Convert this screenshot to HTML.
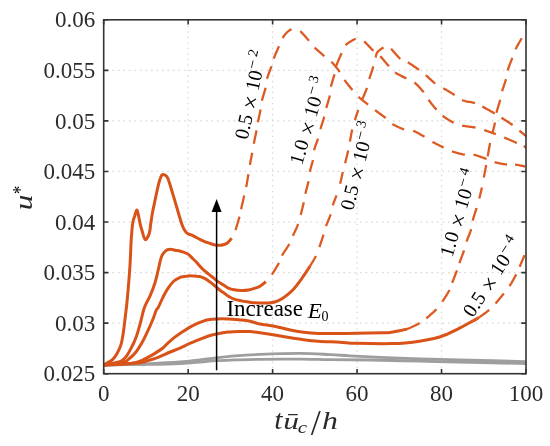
<!DOCTYPE html><html><head><meta charset="utf-8"><style>
html,body{margin:0;padding:0;background:#fff;width:550px;height:446px;overflow:hidden}
svg{display:block;position:absolute;left:0;top:0}
text{font-family:"Liberation Serif","Times New Roman",serif}
</style></head><body>
<svg width="550" height="446" viewBox="0 0 550 446">
<rect width="550" height="446" fill="#fff"/>
<g stroke="#d9d9d9" stroke-width="1.3" stroke-dasharray="1.7 3.8" stroke-dashoffset="0.15"><line x1="188.16" y1="373.70" x2="188.16" y2="19.80"/><line x1="272.62" y1="373.70" x2="272.62" y2="19.80"/><line x1="357.08" y1="373.70" x2="357.08" y2="19.80"/><line x1="441.54" y1="373.70" x2="441.54" y2="19.80"/></g>
<g stroke="#d9d9d9" stroke-width="1.3" stroke-dasharray="1.7 3.8" stroke-dashoffset="2.25"><line x1="103.70" y1="323.14" x2="526.00" y2="323.14"/><line x1="103.70" y1="272.59" x2="526.00" y2="272.59"/><line x1="103.70" y1="222.03" x2="526.00" y2="222.03"/><line x1="103.70" y1="171.47" x2="526.00" y2="171.47"/><line x1="103.70" y1="120.91" x2="526.00" y2="120.91"/><line x1="103.70" y1="70.36" x2="526.00" y2="70.36"/></g>
<defs><clipPath id="cp"><rect x="103.70" y="19.80" width="422.30" height="353.90"/></clipPath></defs>
<g clip-path="url(#cp)">
<path d="M103.60,365.00 C111.33,364.90 137.27,364.65 150.00,364.40 C162.73,364.15 171.67,363.88 180.00,363.50 C188.33,363.12 194.00,362.58 200.00,362.10 C206.00,361.62 210.17,360.97 216.00,360.60 C221.83,360.23 227.67,360.12 235.00,359.90 C242.33,359.68 249.17,359.43 260.00,359.30 C270.83,359.17 288.33,359.05 300.00,359.10 C311.67,359.15 318.33,359.45 330.00,359.60 C341.67,359.75 355.00,359.73 370.00,360.00 C385.00,360.27 403.33,360.80 420.00,361.20 C436.67,361.60 452.33,362.00 470.00,362.40 C487.67,362.80 516.67,363.40 526.00,363.60" fill="none" stroke="#9E9E9E" stroke-width="2.80" stroke-linejoin="round" stroke-linecap="butt"/>
<path d="M103.60,365.00 C111.33,364.77 137.27,364.10 150.00,363.60 C162.73,363.10 171.67,362.63 180.00,362.00 C188.33,361.37 194.00,360.50 200.00,359.80 C206.00,359.10 210.17,358.45 216.00,357.80 C221.83,357.15 227.67,356.47 235.00,355.90 C242.33,355.33 249.17,354.82 260.00,354.40 C270.83,353.98 288.33,353.37 300.00,353.40 C311.67,353.43 321.67,354.20 330.00,354.60 C338.33,355.00 341.67,355.35 350.00,355.80 C358.33,356.25 368.33,356.80 380.00,357.30 C391.67,357.80 405.00,358.32 420.00,358.80 C435.00,359.28 452.33,359.73 470.00,360.20 C487.67,360.67 516.67,361.37 526.00,361.60" fill="none" stroke="#9E9E9E" stroke-width="2.80" stroke-linejoin="round" stroke-linecap="butt"/>
<path d="M103.60,365.00 C109.70,364.62 132.98,363.38 140.20,362.70 C147.42,362.02 144.52,361.58 146.90,360.90 C149.28,360.22 152.02,359.47 154.50,358.60 C156.98,357.73 159.37,356.72 161.80,355.70 C164.23,354.68 166.07,353.77 169.10,352.50 C172.13,351.23 176.67,349.57 180.00,348.10 C183.33,346.63 185.92,345.12 189.10,343.70 C192.28,342.28 195.98,340.85 199.10,339.60 C202.22,338.35 204.90,337.13 207.80,336.20 C210.70,335.27 213.10,334.68 216.50,334.00 C219.90,333.32 224.32,332.52 228.20,332.10 C232.08,331.68 236.17,331.58 239.80,331.50 C243.43,331.42 246.63,331.40 250.00,331.60 C253.37,331.80 255.92,332.15 260.00,332.70 C264.08,333.25 269.65,334.10 274.50,334.90 C279.35,335.70 284.25,336.70 289.10,337.50 C293.95,338.30 298.75,339.08 303.60,339.70 C308.45,340.32 312.13,340.78 318.20,341.20 C324.27,341.62 333.63,341.85 340.00,342.20 C346.37,342.55 347.62,343.07 356.40,343.30 C365.18,343.53 384.60,343.67 392.70,343.60 C400.80,343.53 400.53,343.30 405.00,342.90 C409.47,342.50 414.67,341.93 419.50,341.20 C424.33,340.47 429.75,339.53 434.00,338.50 C438.25,337.47 440.97,336.62 445.00,335.00 C449.03,333.38 453.88,330.97 458.20,328.80 C462.52,326.63 467.52,323.83 470.90,322.00 C474.28,320.17 477.23,318.50 478.50,317.80" fill="none" stroke="#D95319" stroke-width="3.00" stroke-linejoin="round" stroke-linecap="butt"/>
<path d="M103.60,365.00 C108.13,364.73 124.70,364.05 130.80,363.40 C136.90,362.75 137.45,362.07 140.20,361.10 C142.95,360.13 144.92,358.85 147.30,357.60 C149.68,356.35 151.90,355.20 154.50,353.60 C157.10,352.00 160.77,349.67 162.90,348.00 C165.03,346.33 165.37,345.37 167.30,343.60 C169.23,341.83 172.08,339.28 174.50,337.40 C176.92,335.52 179.37,333.93 181.80,332.30 C184.23,330.67 186.67,329.00 189.10,327.60 C191.53,326.20 194.25,324.90 196.40,323.90 C198.55,322.90 200.07,322.28 202.00,321.60 C203.93,320.92 205.58,320.25 208.00,319.80 C210.42,319.35 213.13,319.05 216.50,318.90 C219.87,318.75 224.32,318.73 228.20,318.90 C232.08,319.07 236.17,319.52 239.80,319.90 C243.43,320.28 246.63,320.52 250.00,321.20 C253.37,321.88 255.92,323.17 260.00,324.00 C264.08,324.83 269.65,325.23 274.50,326.20 C279.35,327.17 284.25,328.78 289.10,329.80 C293.95,330.82 298.75,331.68 303.60,332.30 C308.45,332.92 312.13,333.30 318.20,333.50 C324.27,333.70 333.63,333.53 340.00,333.50 C346.37,333.47 349.13,333.43 356.40,333.30 C363.67,333.17 378.00,332.83 383.60,332.70 C389.20,332.57 387.57,332.78 390.00,332.50 C392.43,332.22 395.40,331.57 398.20,331.00 C401.00,330.43 405.37,329.42 406.80,329.10" fill="none" stroke="#D95319" stroke-width="3.00" stroke-linejoin="round" stroke-linecap="butt"/>
<path d="M103.60,365.00 C106.78,364.58 118.40,363.58 122.70,362.50 C127.00,361.42 127.15,360.30 129.40,358.50 C131.65,356.70 134.18,354.18 136.20,351.70 C138.22,349.22 139.72,346.73 141.50,343.60 C143.28,340.47 145.10,336.70 146.90,332.90 C148.70,329.10 150.73,324.62 152.30,320.80 C153.87,316.98 155.32,312.20 156.30,310.00 C157.28,307.80 157.10,309.70 158.20,307.60 C159.30,305.50 161.33,300.53 162.90,297.40 C164.47,294.27 165.77,291.53 167.60,288.80 C169.43,286.07 171.77,282.93 173.90,281.00 C176.03,279.07 178.72,277.93 180.40,277.20 C182.08,276.47 182.65,276.82 184.00,276.60 C185.35,276.38 187.02,276.02 188.50,275.90 C189.98,275.78 191.82,275.87 192.90,275.90 C193.98,275.93 193.88,276.00 195.00,276.10 C196.12,276.20 198.08,276.15 199.60,276.50 C201.12,276.85 202.58,277.47 204.10,278.20 C205.62,278.93 207.17,279.85 208.70,280.90 C210.23,281.95 211.97,283.40 213.30,284.50 C214.63,285.60 215.42,286.42 216.70,287.50 C217.98,288.58 219.62,289.95 221.00,291.00 C222.38,292.05 223.83,292.97 225.00,293.80 C226.17,294.63 226.48,295.12 228.00,296.00 C229.52,296.88 231.87,298.28 234.10,299.10 C236.33,299.92 238.98,300.42 241.40,300.90 C243.82,301.38 246.33,301.68 248.60,302.00 C250.87,302.32 252.77,302.62 255.00,302.80 C257.23,302.98 259.67,303.08 262.00,303.10 C264.33,303.12 266.75,303.12 269.00,302.90 C271.25,302.68 273.42,302.45 275.50,301.80 C277.58,301.15 279.48,300.20 281.50,299.00 C283.52,297.80 285.60,296.23 287.60,294.60 C289.60,292.97 291.53,291.32 293.50,289.20 C295.47,287.08 297.58,284.32 299.40,281.90 C301.22,279.48 302.63,277.30 304.40,274.70 C306.17,272.10 309.07,267.70 310.00,266.30" fill="none" stroke="#D95319" stroke-width="3.00" stroke-linejoin="round" stroke-linecap="butt"/>
<path d="M103.60,365.00 C105.62,364.62 112.75,363.35 115.70,362.70 C118.65,362.05 119.47,362.25 121.30,361.10 C123.13,359.95 125.02,358.03 126.70,355.80 C128.38,353.57 129.82,350.85 131.40,347.70 C132.98,344.55 134.73,340.93 136.20,336.90 C137.67,332.87 138.97,327.98 140.20,323.50 C141.43,319.02 142.68,313.17 143.60,310.00 C144.52,306.83 144.57,306.98 145.70,304.50 C146.83,302.02 148.83,298.77 150.40,295.10 C151.97,291.43 153.80,286.68 155.10,282.50 C156.40,278.32 157.13,274.28 158.20,270.00 C159.27,265.72 160.27,260.00 161.50,256.80 C162.73,253.60 164.13,252.07 165.60,250.80 C167.07,249.53 168.73,249.30 170.30,249.20 C171.87,249.10 173.32,249.87 175.00,250.20 C176.68,250.53 178.60,250.73 180.40,251.20 C182.20,251.67 184.32,252.33 185.80,253.00 C187.28,253.67 188.12,254.23 189.30,255.20 C190.48,256.17 191.70,257.63 192.90,258.80 C194.10,259.97 194.95,260.57 196.50,262.20 C198.05,263.83 200.17,266.60 202.20,268.60 C204.23,270.60 206.73,272.57 208.70,274.20 C210.67,275.83 212.67,277.33 214.00,278.40 C215.33,279.47 215.53,279.73 216.70,280.60 C217.87,281.47 219.62,282.70 221.00,283.60 C222.38,284.50 223.88,285.30 225.00,286.00 C226.12,286.70 226.18,287.17 227.70,287.80 C229.22,288.43 231.82,289.35 234.10,289.80 C236.38,290.25 238.98,290.47 241.40,290.50 C243.82,290.53 246.33,290.38 248.60,290.00 C250.87,289.62 253.10,288.83 255.00,288.20 C256.90,287.57 258.18,287.28 260.00,286.20 C261.82,285.12 264.92,282.45 265.90,281.70" fill="none" stroke="#D95319" stroke-width="3.00" stroke-linejoin="round" stroke-linecap="butt"/>
<path d="M103.60,365.00 C104.05,364.75 104.82,364.40 106.30,363.50 C107.78,362.60 110.68,361.30 112.50,359.60 C114.32,357.90 115.75,355.92 117.20,353.30 C118.65,350.68 120.15,347.57 121.20,343.90 C122.25,340.23 122.80,336.00 123.50,331.30 C124.20,326.60 124.78,320.92 125.40,315.70 C126.02,310.48 126.45,308.13 127.20,300.00 C127.95,291.87 129.23,276.90 129.90,266.90 C130.57,256.90 130.73,247.28 131.20,240.00 C131.67,232.72 132.12,227.18 132.70,223.20 C133.28,219.22 134.03,218.28 134.70,216.10 C135.37,213.92 136.12,210.43 136.70,210.10 C137.28,209.77 137.62,211.75 138.20,214.10 C138.78,216.45 139.53,221.33 140.20,224.20 C140.87,227.07 141.35,228.73 142.20,231.30 C143.05,233.87 144.12,239.27 145.30,239.60 C146.48,239.93 148.38,236.03 149.30,233.30 C150.22,230.57 150.25,226.75 150.80,223.20 C151.35,219.65 151.97,215.45 152.60,212.00 C153.23,208.55 153.87,206.00 154.60,202.50 C155.33,199.00 156.17,194.67 157.00,191.00 C157.83,187.33 158.75,183.20 159.60,180.50 C160.45,177.80 161.15,175.67 162.10,174.80 C163.05,173.93 164.38,174.80 165.30,175.30 C166.22,175.80 166.78,176.15 167.60,177.80 C168.42,179.45 168.77,180.60 170.20,185.20 C171.63,189.80 174.18,198.68 176.20,205.40 C178.22,212.12 180.62,220.97 182.30,225.50 C183.98,230.03 184.95,231.08 186.30,232.60 C187.65,234.12 189.22,234.07 190.40,234.60 C191.58,235.13 191.73,234.95 193.40,235.80 C195.07,236.65 198.53,238.73 200.40,239.70 C202.27,240.67 203.25,241.07 204.60,241.60 C205.95,242.13 206.77,242.33 208.50,242.90 C210.23,243.47 213.13,244.60 215.00,245.00 C216.87,245.40 218.32,245.33 219.70,245.30 C221.08,245.27 221.97,245.23 223.30,244.80 C224.63,244.37 226.30,243.80 227.70,242.70 C229.10,241.60 231.03,238.95 231.70,238.20" fill="none" stroke="#D95319" stroke-width="3.00" stroke-linejoin="round" stroke-linecap="butt"/>
<path d="M235.50,230.10L235.76,229.27L236.06,228.31L236.39,227.22L236.75,226.05L237.13,224.81L237.51,223.54L237.89,222.25L238.26,220.99L238.61,219.76L238.95,218.60L239.24,217.54L239.50,216.60M241.10,209.20L241.31,208.26L241.54,207.22L241.80,206.09L242.06,204.90L242.34,203.67L242.62,202.41L242.91,201.15L243.19,199.91L243.47,198.70L243.73,197.55L243.98,196.48L244.20,195.50M246.20,187.10L246.38,186.18L246.56,185.18L246.75,184.13L246.94,183.03L247.14,181.91L247.33,180.76L247.52,179.62L247.71,178.48L247.89,177.36L248.07,176.29L248.24,175.26L248.40,174.30M249.90,164.90L250.07,163.98L250.25,163.00L250.44,161.99L250.63,160.95L250.84,159.89L251.04,158.82L251.25,157.76L251.46,156.70L251.66,155.67L251.85,154.67L252.03,153.71L252.20,152.80M253.80,143.80L253.99,142.82L254.20,141.76L254.43,140.64L254.67,139.46L254.91,138.26L255.16,137.04L255.41,135.83L255.66,134.64L255.89,133.48L256.11,132.38L256.32,131.35L256.50,130.40M257.90,122.30L258.08,121.38L258.29,120.39L258.52,119.33L258.76,118.23L259.00,117.09L259.26,115.94L259.51,114.78L259.76,113.64L259.99,112.52L260.22,111.45L260.42,110.44L260.60,109.50M261.90,100.80L262.13,99.85L262.40,98.82L262.71,97.74L263.04,96.60L263.39,95.44L263.74,94.26L264.10,93.08L264.45,91.92L264.78,90.78L265.09,89.69L265.36,88.66L265.60,87.70M267.00,78.80L267.27,77.86L267.60,76.86L267.96,75.79L268.36,74.69L268.77,73.56L269.20,72.42L269.63,71.28L270.06,70.17L270.46,69.09L270.85,68.05L271.20,67.09L271.50,66.20M273.70,58.60L274.04,57.72L274.42,56.76L274.85,55.74L275.30,54.66L275.77,53.56L276.26,52.43L276.76,51.30L277.24,50.19L277.72,49.11L278.18,48.07L278.61,47.10L279.00,46.20M282.60,38.10L282.94,37.53L283.28,36.98L283.64,36.45L284.00,35.93L284.37,35.43L284.74,34.94L285.11,34.48L285.49,34.03L285.87,33.59L286.25,33.18L286.62,32.78L287.00,32.40L287.38,32.04L287.76,31.69L288.15,31.35L288.53,31.04L288.92,30.74L289.31,30.46L289.70,30.19L290.09,29.95L290.47,29.73L290.85,29.53L291.23,29.35L291.60,29.20M300.30,31.20L300.89,31.75L301.54,32.40L302.25,33.15L303.00,33.96L303.78,34.82L304.58,35.71L305.38,36.62L306.17,37.53L306.94,38.42L307.68,39.28L308.37,40.07L309.00,40.80M314.60,47.60L315.28,48.26L316.02,48.96L316.82,49.69L317.66,50.44L318.53,51.21L319.41,51.98L320.30,52.74L321.19,53.49L322.05,54.22L322.88,54.92L323.67,55.58L324.40,56.20M331.40,61.80L332.06,62.50L332.76,63.26L333.49,64.08L334.23,64.94L334.99,65.84L335.74,66.76L336.49,67.68L337.22,68.60L337.93,69.50L338.60,70.38L339.23,71.22L339.80,72.00M344.50,79.90L345.05,80.68L345.65,81.49L346.29,82.35L346.96,83.23L347.66,84.12L348.36,85.02L349.07,85.91L349.78,86.80L350.48,87.66L351.15,88.48L351.79,89.27L352.40,90.00M358.50,96.80L359.19,97.42L359.93,98.07L360.72,98.73L361.54,99.41L362.39,100.10L363.25,100.78L364.11,101.46L364.97,102.13L365.81,102.79L366.62,103.42L367.38,104.03L368.10,104.60M375.00,110.10L375.77,110.68L376.61,111.30L377.50,111.95L378.43,112.62L379.39,113.31L380.36,114.01L381.33,114.71L382.29,115.41L383.22,116.10L384.10,116.76L384.94,117.40L385.70,118.00M392.40,124.10L393.21,124.58L394.10,125.07L395.06,125.57L396.06,126.07L397.10,126.56L398.16,127.04L399.22,127.51L400.29,127.95L401.33,128.37L402.34,128.75L403.30,129.10L404.20,129.40M413.20,130.80L414.07,131.14L414.99,131.54L415.94,132.00L416.92,132.49L417.92,133.02L418.92,133.57L419.92,134.13L420.90,134.70L421.86,135.26L422.79,135.80L423.67,136.32L424.50,136.80M432.40,141.90L433.23,142.35L434.11,142.82L435.03,143.30L435.99,143.79L436.97,144.28L437.97,144.78L438.96,145.26L439.95,145.74L440.92,146.21L441.86,146.66L442.75,147.09L443.60,147.50M452.00,151.40L452.93,151.71L453.94,152.02L455.01,152.34L456.12,152.67L457.27,152.98L458.43,153.29L459.59,153.59L460.74,153.87L461.86,154.12L462.94,154.35L463.96,154.54L464.90,154.70M473.60,154.70L474.55,154.91L475.58,155.18L476.66,155.50L477.80,155.86L478.97,156.25L480.14,156.66L481.32,157.08L482.48,157.50L483.60,157.91L484.67,158.30L485.68,158.67L486.60,159.00M494.60,162.10L495.49,162.34L496.46,162.58L497.49,162.83L498.57,163.07L499.68,163.31L500.80,163.54L501.92,163.77L503.03,163.97L504.11,164.16L505.14,164.33L506.11,164.48L507.00,164.60M515.00,164.60L515.81,164.70L516.70,164.83L517.65,164.99L518.64,165.16L519.65,165.35L520.65,165.55L521.62,165.75L522.54,165.94L523.40,166.11L524.15,166.27L524.79,166.40L525.30,166.50" fill="none" stroke="#DD5B22" stroke-width="2.30" stroke-linecap="butt" stroke-linejoin="round"/>
<path d="M271.80,274.60L272.35,273.78L272.94,272.88L273.56,271.92L274.21,270.90L274.88,269.85L275.54,268.78L276.20,267.71L276.84,266.66L277.45,265.63L278.02,264.65L278.54,263.74L279.00,262.90M282.00,255.60L282.47,254.77L283.01,253.88L283.61,252.92L284.25,251.92L284.92,250.89L285.61,249.85L286.30,248.80L286.98,247.77L287.63,246.75L288.25,245.78L288.81,244.86L289.30,244.00M292.90,235.90L293.29,235.03L293.72,234.10L294.17,233.13L294.64,232.11L295.13,231.07L295.62,230.01L296.10,228.95L296.58,227.90L297.03,226.87L297.46,225.87L297.85,224.91L298.20,224.00M300.70,214.90L300.94,213.96L301.20,212.96L301.47,211.90L301.74,210.81L302.03,209.70L302.31,208.57L302.58,207.44L302.86,206.33L303.12,205.25L303.36,204.21L303.59,203.22L303.80,202.30M305.40,193.70L305.61,192.79L305.85,191.81L306.11,190.78L306.39,189.71L306.68,188.61L306.97,187.50L307.26,186.39L307.54,185.28L307.82,184.20L308.07,183.15L308.30,182.15L308.50,181.20M309.80,171.80L310.00,170.89L310.23,169.95L310.49,168.97L310.77,167.97L311.06,166.95L311.36,165.92L311.65,164.89L311.94,163.87L312.22,162.86L312.47,161.87L312.70,160.92L312.90,160.00M314.10,150.30L314.34,149.39L314.61,148.44L314.92,147.46L315.26,146.46L315.61,145.45L315.98,144.43L316.34,143.41L316.71,142.40L317.07,141.41L317.41,140.44L317.72,139.50L318.00,138.60M320.40,129.20L320.68,128.25L320.99,127.24L321.31,126.18L321.66,125.09L322.01,123.97L322.38,122.85L322.73,121.73L323.09,120.62L323.42,119.54L323.74,118.51L324.04,117.52L324.30,116.60M326.30,108.00L326.55,107.08L326.82,106.10L327.13,105.06L327.44,103.98L327.77,102.88L328.11,101.76L328.44,100.64L328.76,99.53L329.06,98.45L329.34,97.41L329.59,96.42L329.80,95.50M330.90,86.80L331.12,85.87L331.38,84.87L331.67,83.81L331.99,82.71L332.32,81.58L332.67,80.44L333.02,79.31L333.36,78.19L333.68,77.10L333.99,76.07L334.26,75.09L334.50,74.20M336.10,66.40L336.43,65.47L336.81,64.44L337.24,63.34L337.70,62.17L338.20,60.97L338.71,59.76L339.22,58.54L339.74,57.34L340.25,56.17L340.73,55.07L341.19,54.04L341.60,53.10M345.50,45.20L346.15,44.59L346.90,43.97L347.75,43.33L348.65,42.70L349.60,42.08L350.57,41.48L351.55,40.91L352.50,40.36L353.42,39.86L354.27,39.41L355.04,39.02L355.70,38.70M364.20,41.30L364.80,41.88L365.48,42.57L366.23,43.34L367.02,44.17L367.85,45.05L368.69,45.96L369.55,46.87L370.40,47.77L371.24,48.65L372.04,49.47L372.80,50.23L373.50,50.90M380.20,56.20L380.86,56.89L381.56,57.65L382.30,58.48L383.05,59.36L383.81,60.27L384.59,61.20L385.36,62.13L386.12,63.05L386.86,63.94L387.58,64.79L388.26,65.58L388.90,66.30M395.00,72.40L395.77,72.92L396.63,73.44L397.55,73.97L398.53,74.51L399.54,75.05L400.57,75.58L401.62,76.11L402.65,76.62L403.66,77.12L404.63,77.60L405.55,78.07L406.40,78.50M414.50,82.50L415.24,83.12L416.02,83.83L416.83,84.60L417.65,85.43L418.48,86.29L419.31,87.19L420.12,88.09L420.92,89.00L421.68,89.88L422.41,90.74L423.08,91.55L423.70,92.30M428.50,99.70L429.06,100.46L429.67,101.27L430.32,102.13L431.00,103.02L431.70,103.92L432.42,104.84L433.14,105.75L433.86,106.64L434.56,107.50L435.24,108.32L435.89,109.09L436.50,109.80M442.60,115.80L443.36,116.36L444.19,116.96L445.09,117.58L446.03,118.21L447.01,118.86L448.01,119.50L449.01,120.13L450.01,120.74L451.00,121.32L451.95,121.86L452.85,122.36L453.70,122.80M462.10,125.60L463.06,125.79L464.11,125.97L465.23,126.14L466.40,126.31L467.61,126.46L468.84,126.62L470.06,126.77L471.27,126.93L472.45,127.08L473.57,127.25L474.63,127.42L475.60,127.60M484.20,130.10L485.08,130.39L486.01,130.70L486.99,131.03L488.00,131.38L489.03,131.74L490.07,132.10L491.11,132.47L492.14,132.83L493.14,133.19L494.11,133.54L495.03,133.88L495.90,134.20M504.20,137.50L505.12,137.89L506.13,138.32L507.20,138.78L508.33,139.26L509.48,139.76L510.64,140.26L511.80,140.77L512.94,141.26L514.04,141.74L515.07,142.20L516.03,142.62L516.90,143.00M523.70,146.10L524.11,146.32L524.49,146.54L524.85,146.76L525.18,146.98L525.49,147.19L525.78,147.39L526.04,147.58L526.27,147.76L526.49,147.93L526.68,148.07L526.85,148.20L527.00,148.30" fill="none" stroke="#DD5B22" stroke-width="2.30" stroke-linecap="butt" stroke-linejoin="round"/>
<path d="M306.00,272.50L306.50,271.68L307.16,270.62L307.95,269.36L308.84,267.94L309.79,266.41L310.79,264.81L311.79,263.17L312.79,261.55L313.73,259.98L314.60,258.50L315.37,257.16L316.00,256.00M319.40,247.10L319.72,246.18L320.06,245.19L320.41,244.15L320.77,243.08L321.14,241.98L321.51,240.88L321.87,239.77L322.23,238.67L322.57,237.61L322.90,236.58L323.21,235.61L323.50,234.70M326.00,226.20L326.32,225.32L326.69,224.38L327.08,223.40L327.50,222.38L327.93,221.34L328.38,220.28L328.81,219.22L329.24,218.18L329.66,217.15L330.04,216.15L330.39,215.20L330.70,214.30M332.80,205.30L333.05,204.51L333.33,203.71L333.61,202.91L333.92,202.10L334.23,201.29L334.56,200.46L334.88,199.63L335.21,198.79L335.54,197.94L335.87,197.07L336.19,196.19L336.50,195.30M340.10,183.70L340.36,182.72L340.61,181.72L340.85,180.71L341.08,179.70L341.31,178.69L341.53,177.68L341.75,176.67L341.96,175.69L342.17,174.72L342.38,173.78L342.59,172.87L342.80,172.00M345.10,163.20L345.33,162.26L345.59,161.25L345.85,160.19L346.13,159.08L346.41,157.95L346.69,156.80L346.97,155.65L347.24,154.52L347.50,153.41L347.76,152.35L347.99,151.34L348.20,150.40M349.90,141.60L350.07,140.70L350.24,139.74L350.42,138.74L350.61,137.71L350.80,136.66L350.99,135.59L351.18,134.52L351.38,133.46L351.58,132.41L351.79,131.40L351.99,130.42L352.20,129.50M354.90,120.10L355.16,119.29L355.42,118.47L355.68,117.65L355.95,116.82L356.23,115.99L356.51,115.15L356.79,114.31L357.08,113.46L357.38,112.60L357.68,111.74L357.99,110.88L358.30,110.00M362.50,99.00L362.87,98.07L363.26,97.12L363.66,96.16L364.06,95.19L364.47,94.23L364.87,93.26L365.27,92.31L365.65,91.36L366.02,90.44L366.37,89.53L366.70,88.65L367.00,87.80M369.30,79.00L369.58,78.07L369.89,77.08L370.22,76.03L370.57,74.94L370.94,73.83L371.31,72.70L371.67,71.57L372.04,70.46L372.39,69.37L372.72,68.32L373.02,67.33L373.30,66.40M375.50,57.60L375.67,57.02L375.81,56.47L375.94,55.95L376.06,55.46L376.18,54.98L376.31,54.53L376.45,54.09L376.61,53.67L376.80,53.25L377.03,52.83L377.29,52.42L377.60,52.00L377.97,51.57L378.40,51.14L378.88,50.70L379.40,50.26L379.94,49.83L380.50,49.42L381.07,49.02L381.63,48.65L382.17,48.30L382.69,47.99L383.17,47.72L383.60,47.50M391.00,48.80L391.59,49.37L392.26,50.07L393.00,50.88L393.79,51.79L394.61,52.75L395.47,53.74L396.34,54.74L397.20,55.71L398.06,56.65L398.88,57.51L399.67,58.27L400.40,58.90M407.80,62.30L408.62,62.79L409.51,63.35L410.46,63.96L411.45,64.61L412.46,65.29L413.49,65.98L414.52,66.68L415.53,67.38L416.51,68.06L417.44,68.72L418.31,69.33L419.10,69.90M425.80,75.20L426.49,75.80L427.23,76.45L427.99,77.15L428.78,77.88L429.59,78.63L430.41,79.39L431.24,80.14L432.06,80.89L432.88,81.61L433.68,82.29L434.45,82.92L435.20,83.50M443.30,88.20L444.15,88.70L445.06,89.23L446.01,89.79L447.00,90.37L448.02,90.97L449.04,91.58L450.07,92.18L451.07,92.78L452.05,93.37L452.99,93.94L453.88,94.49L454.70,95.00M462.10,100.10L463.00,100.43L464.00,100.73L465.07,101.01L466.20,101.27L467.37,101.52L468.56,101.76L469.74,101.99L470.91,102.22L472.04,102.45L473.11,102.69L474.10,102.94L475.00,103.20M482.30,106.60L483.17,107.06L484.14,107.57L485.17,108.12L486.26,108.71L487.39,109.32L488.53,109.94L489.67,110.57L490.79,111.19L491.87,111.80L492.90,112.37L493.85,112.91L494.70,113.40M501.50,117.70L502.29,118.21L503.15,118.77L504.07,119.37L505.04,120.00L506.04,120.65L507.05,121.32L508.06,121.99L509.06,122.65L510.03,123.30L510.95,123.93L511.81,124.54L512.60,125.10M519.40,130.70L520.02,131.20L520.68,131.73L521.38,132.29L522.10,132.86L522.82,133.44L523.52,134.00L524.21,134.54L524.86,135.06L525.46,135.53L525.99,135.95L526.44,136.31L526.80,136.60" fill="none" stroke="#DD5B22" stroke-width="2.30" stroke-linecap="butt" stroke-linejoin="round"/>
<path d="M398.20,331.00L398.62,330.91L399.16,330.80L399.79,330.68L400.50,330.54L401.27,330.39L402.08,330.22L402.92,330.05L403.76,329.87L404.58,329.68L405.38,329.49L406.12,329.30L406.80,329.10L407.43,328.90L408.03,328.69L408.62,328.47L409.19,328.25L409.75,328.02L410.30,327.79L410.84,327.55L411.37,327.30L411.90,327.06L412.43,326.81L412.97,326.55L413.50,326.30L414.03,326.05L414.56,325.80L415.08,325.54L415.59,325.29L416.10,325.03L416.61,324.77L417.11,324.50L417.62,324.22L418.13,323.94L418.65,323.64L419.17,323.33L419.70,323.00M426.30,318.30L427.04,317.69L427.84,317.02L428.70,316.30L429.60,315.53L430.52,314.74L431.45,313.92L432.38,313.10L433.29,312.28L434.18,311.47L435.01,310.67L435.79,309.92L436.50,309.20M442.30,301.70L442.87,300.86L443.47,299.94L444.11,298.96L444.76,297.94L445.43,296.89L446.09,295.83L446.75,294.77L447.38,293.72L447.98,292.71L448.54,291.74L449.05,290.83L449.50,290.00M452.20,282.80L452.53,281.93L452.91,280.96L453.31,279.92L453.73,278.83L454.17,277.70L454.62,276.55L455.06,275.40L455.50,274.27L455.92,273.18L456.31,272.14L456.68,271.17L457.00,270.30M459.40,263.10L459.72,262.22L460.08,261.24L460.47,260.20L460.88,259.09L461.31,257.95L461.75,256.79L462.19,255.62L462.62,254.46L463.03,253.34L463.42,252.26L463.78,251.24L464.10,250.30M466.50,241.70L466.82,240.78L467.19,239.80L467.59,238.76L468.01,237.68L468.46,236.57L468.91,235.45L469.35,234.33L469.79,233.22L470.20,232.14L470.58,231.10L470.91,230.12L471.20,229.20M472.70,220.60L472.94,219.68L473.23,218.70L473.53,217.66L473.87,216.58L474.22,215.48L474.57,214.36L474.94,213.23L475.30,212.12L475.65,211.03L475.99,209.97L476.31,208.95L476.60,208.00M479.30,198.50L479.52,197.63L479.75,196.74L479.97,195.83L480.20,194.91L480.43,193.97L480.65,193.03L480.87,192.09L481.09,191.15L481.30,190.21L481.51,189.29L481.71,188.39L481.90,187.50M483.80,177.50L483.99,176.53L484.18,175.52L484.39,174.46L484.60,173.37L484.81,172.27L485.02,171.16L485.24,170.06L485.45,168.97L485.65,167.91L485.85,166.89L486.03,165.91L486.20,165.00M487.70,156.40L487.87,155.44L488.05,154.39L488.24,153.28L488.44,152.13L488.65,150.93L488.86,149.73L489.07,148.51L489.28,147.32L489.49,146.15L489.70,145.03L489.90,143.98L490.10,143.00M492.30,134.00L492.51,133.12L492.73,132.21L492.97,131.26L493.21,130.29L493.45,129.29L493.69,128.29L493.93,127.29L494.17,126.29L494.40,125.31L494.61,124.34L494.82,123.40L495.00,122.50M496.50,112.80L496.74,111.82L497.01,110.77L497.31,109.68L497.64,108.54L497.98,107.39L498.32,106.22L498.67,105.06L499.02,103.92L499.35,102.81L499.66,101.74L499.95,100.74L500.20,99.80M502.10,91.30L502.36,90.40L502.66,89.44L502.99,88.43L503.34,87.37L503.70,86.30L504.07,85.21L504.44,84.12L504.80,83.04L505.14,81.98L505.46,80.97L505.75,80.00L506.00,79.10M507.60,70.50L507.89,69.58L508.22,68.59L508.59,67.54L508.99,66.45L509.41,65.33L509.85,64.20L510.29,63.07L510.73,61.95L511.16,60.86L511.57,59.81L511.95,58.82L512.30,57.90M515.50,49.30L515.93,48.43L516.43,47.48L516.98,46.46L517.57,45.40L518.18,44.33L518.80,43.26L519.40,42.23L519.98,41.24L520.52,40.33L520.99,39.52L521.39,38.84L521.70,38.30" fill="none" stroke="#DD5B22" stroke-width="2.30" stroke-linecap="butt" stroke-linejoin="round"/>
<path d="M470.90,322.00L471.26,321.81L471.69,321.59L472.19,321.33L472.76,321.05L473.37,320.74L474.03,320.39L474.73,320.02L475.46,319.63L476.20,319.21L476.97,318.76L477.73,318.29L478.50,317.80L479.30,317.27L480.15,316.68L481.06,316.05L482.00,315.39L482.96,314.69L483.93,313.99L484.90,313.27L485.84,312.56L486.76,311.86L487.64,311.17L488.45,310.52L489.20,309.90M495.50,303.50L496.14,302.78L496.81,302.00L497.52,301.17L498.25,300.30L498.99,299.41L499.74,298.50L500.49,297.59L501.23,296.69L501.95,295.81L502.64,294.96L503.29,294.15L503.90,293.40M509.50,286.20L510.03,285.36L510.59,284.45L511.18,283.48L511.77,282.45L512.38,281.40L512.99,280.32L513.59,279.25L514.17,278.19L514.73,277.16L515.26,276.18L515.75,275.25L516.20,274.40M519.60,266.80L519.98,265.93L520.40,264.95L520.85,263.89L521.33,262.77L521.82,261.62L522.31,260.48L522.79,259.35L523.24,258.29L523.66,257.30L524.04,256.42L524.35,255.68L524.60,255.10" fill="none" stroke="#DD5B22" stroke-width="2.30" stroke-linecap="butt" stroke-linejoin="round"/>
</g>
<line x1="216.6" y1="370.3" x2="216.6" y2="208" stroke="#000" stroke-width="1.5"/>
<polygon points="216.6,199 211.6,212 221.6,212" fill="#000"/>
<rect x="103.70" y="19.80" width="422.30" height="353.90" fill="none" stroke="#333333" stroke-width="1.6"/>
<path d="M103.70,373.70v-4.70M103.70,19.80v4.70M188.16,373.70v-4.70M188.16,19.80v4.70M272.62,373.70v-4.70M272.62,19.80v4.70M357.08,373.70v-4.70M357.08,19.80v4.70M441.54,373.70v-4.70M441.54,19.80v4.70M526.00,373.70v-4.70M526.00,19.80v4.70M103.70,373.70h4.70M526.00,373.70h-4.70M103.70,323.14h4.70M526.00,323.14h-4.70M103.70,272.59h4.70M526.00,272.59h-4.70M103.70,222.03h4.70M526.00,222.03h-4.70M103.70,171.47h4.70M526.00,171.47h-4.70M103.70,120.91h4.70M526.00,120.91h-4.70M103.70,70.36h4.70M526.00,70.36h-4.70M103.70,19.80h4.70M526.00,19.80h-4.70" stroke="#333333" stroke-width="1.6" fill="none"/>
<text x="95.3" y="381.35" font-size="23" text-anchor="end" fill="#2b2b2b">0.025</text>
<text x="95.3" y="330.79" font-size="23" text-anchor="end" fill="#2b2b2b">0.03</text>
<text x="95.3" y="280.24" font-size="23" text-anchor="end" fill="#2b2b2b">0.035</text>
<text x="95.3" y="229.68" font-size="23" text-anchor="end" fill="#2b2b2b">0.04</text>
<text x="95.3" y="179.12" font-size="23" text-anchor="end" fill="#2b2b2b">0.045</text>
<text x="95.3" y="128.56" font-size="23" text-anchor="end" fill="#2b2b2b">0.05</text>
<text x="95.3" y="78.01" font-size="23" text-anchor="end" fill="#2b2b2b">0.055</text>
<text x="95.3" y="27.45" font-size="23" text-anchor="end" fill="#2b2b2b">0.06</text>
<text x="103.70" y="401.4" font-size="23" text-anchor="middle" fill="#2b2b2b">0</text>
<text x="188.16" y="401.4" font-size="23" text-anchor="middle" fill="#2b2b2b">20</text>
<text x="272.62" y="401.4" font-size="23" text-anchor="middle" fill="#2b2b2b">40</text>
<text x="357.08" y="401.4" font-size="23" text-anchor="middle" fill="#2b2b2b">60</text>
<text x="441.54" y="401.4" font-size="23" text-anchor="middle" fill="#2b2b2b">80</text>
<text x="526.00" y="401.4" font-size="23" text-anchor="middle" fill="#2b2b2b">100</text>
<text transform="translate(274.19,429.00) scale(1.100,1)" font-size="27.0" font-style="italic" fill="#2a2a2a">t</text>
<text transform="translate(283.32,429.10) scale(1.400,1)" font-size="22.5" font-style="italic" fill="#2a2a2a">ū</text>
<text transform="translate(297.65,433.30) scale(1.300,1)" font-size="16.2" font-style="italic" fill="#2a2a2a">c</text>
<text x="310.80" y="434.60" font-size="36.0" fill="#2a2a2a">/</text>
<text transform="translate(321.96,429.40) scale(1.250,1)" font-size="25.4" font-style="italic" fill="#2a2a2a">h</text>
<g transform="translate(31.4,208.8) rotate(-90)"><text transform="translate(-1.56,0.20) scale(1.200,1)" font-size="26.0" font-style="italic" fill="#2a2a2a">u</text><text transform="translate(14.69,-4.20) scale(0.750,1)" font-size="22.0">*</text></g>
<text x="226.4" y="315.8" font-size="23">Increase</text>
<text transform="translate(307.70,318.30) scale(1.150,1)" font-size="20.0" font-style="italic">E</text>
<text x="321.40" y="321.10" font-size="14.0">0</text>
<g transform="translate(247.41,140.30) rotate(-77.50)"><text x="0" y="0" font-size="20.0">0.5</text><text x="31.00" y="2.98" font-size="24.0">×</text><text x="50.00" y="0" font-size="20.0">10</text><text x="70.88" y="-6.49" font-size="16.0">−</text><text x="82.98" y="-8.90" font-size="14.0">2</text></g>
<g transform="translate(302.07,165.85) rotate(-73.60)"><text x="0" y="0" font-size="20.0">1.0</text><text x="31.00" y="2.98" font-size="24.0">×</text><text x="50.00" y="0" font-size="20.0">10</text><text x="70.88" y="-6.49" font-size="16.0">−</text><text x="82.98" y="-8.90" font-size="14.0">3</text></g>
<g transform="translate(352.91,211.16) rotate(-75.70)"><text x="0" y="0" font-size="20.0">0.5</text><text x="31.00" y="2.98" font-size="24.0">×</text><text x="50.00" y="0" font-size="20.0">10</text><text x="70.88" y="-6.49" font-size="16.0">−</text><text x="82.98" y="-8.90" font-size="14.0">3</text></g>
<g transform="translate(452.13,257.98) rotate(-73.20)"><text x="0" y="0" font-size="20.0">1.0</text><text x="31.00" y="2.98" font-size="24.0">×</text><text x="50.00" y="0" font-size="20.0">10</text><text x="70.88" y="-6.49" font-size="16.0">−</text><text x="82.98" y="-8.90" font-size="14.0">4</text></g>
<g transform="translate(473.07,318.36) rotate(-57.00)"><text x="0" y="0" font-size="20.0">0.5</text><text x="31.00" y="2.98" font-size="24.0">×</text><text x="50.00" y="0" font-size="20.0">10</text><text x="70.88" y="-6.49" font-size="16.0">−</text><text x="82.98" y="-8.90" font-size="14.0">4</text></g>
</svg></body></html>
